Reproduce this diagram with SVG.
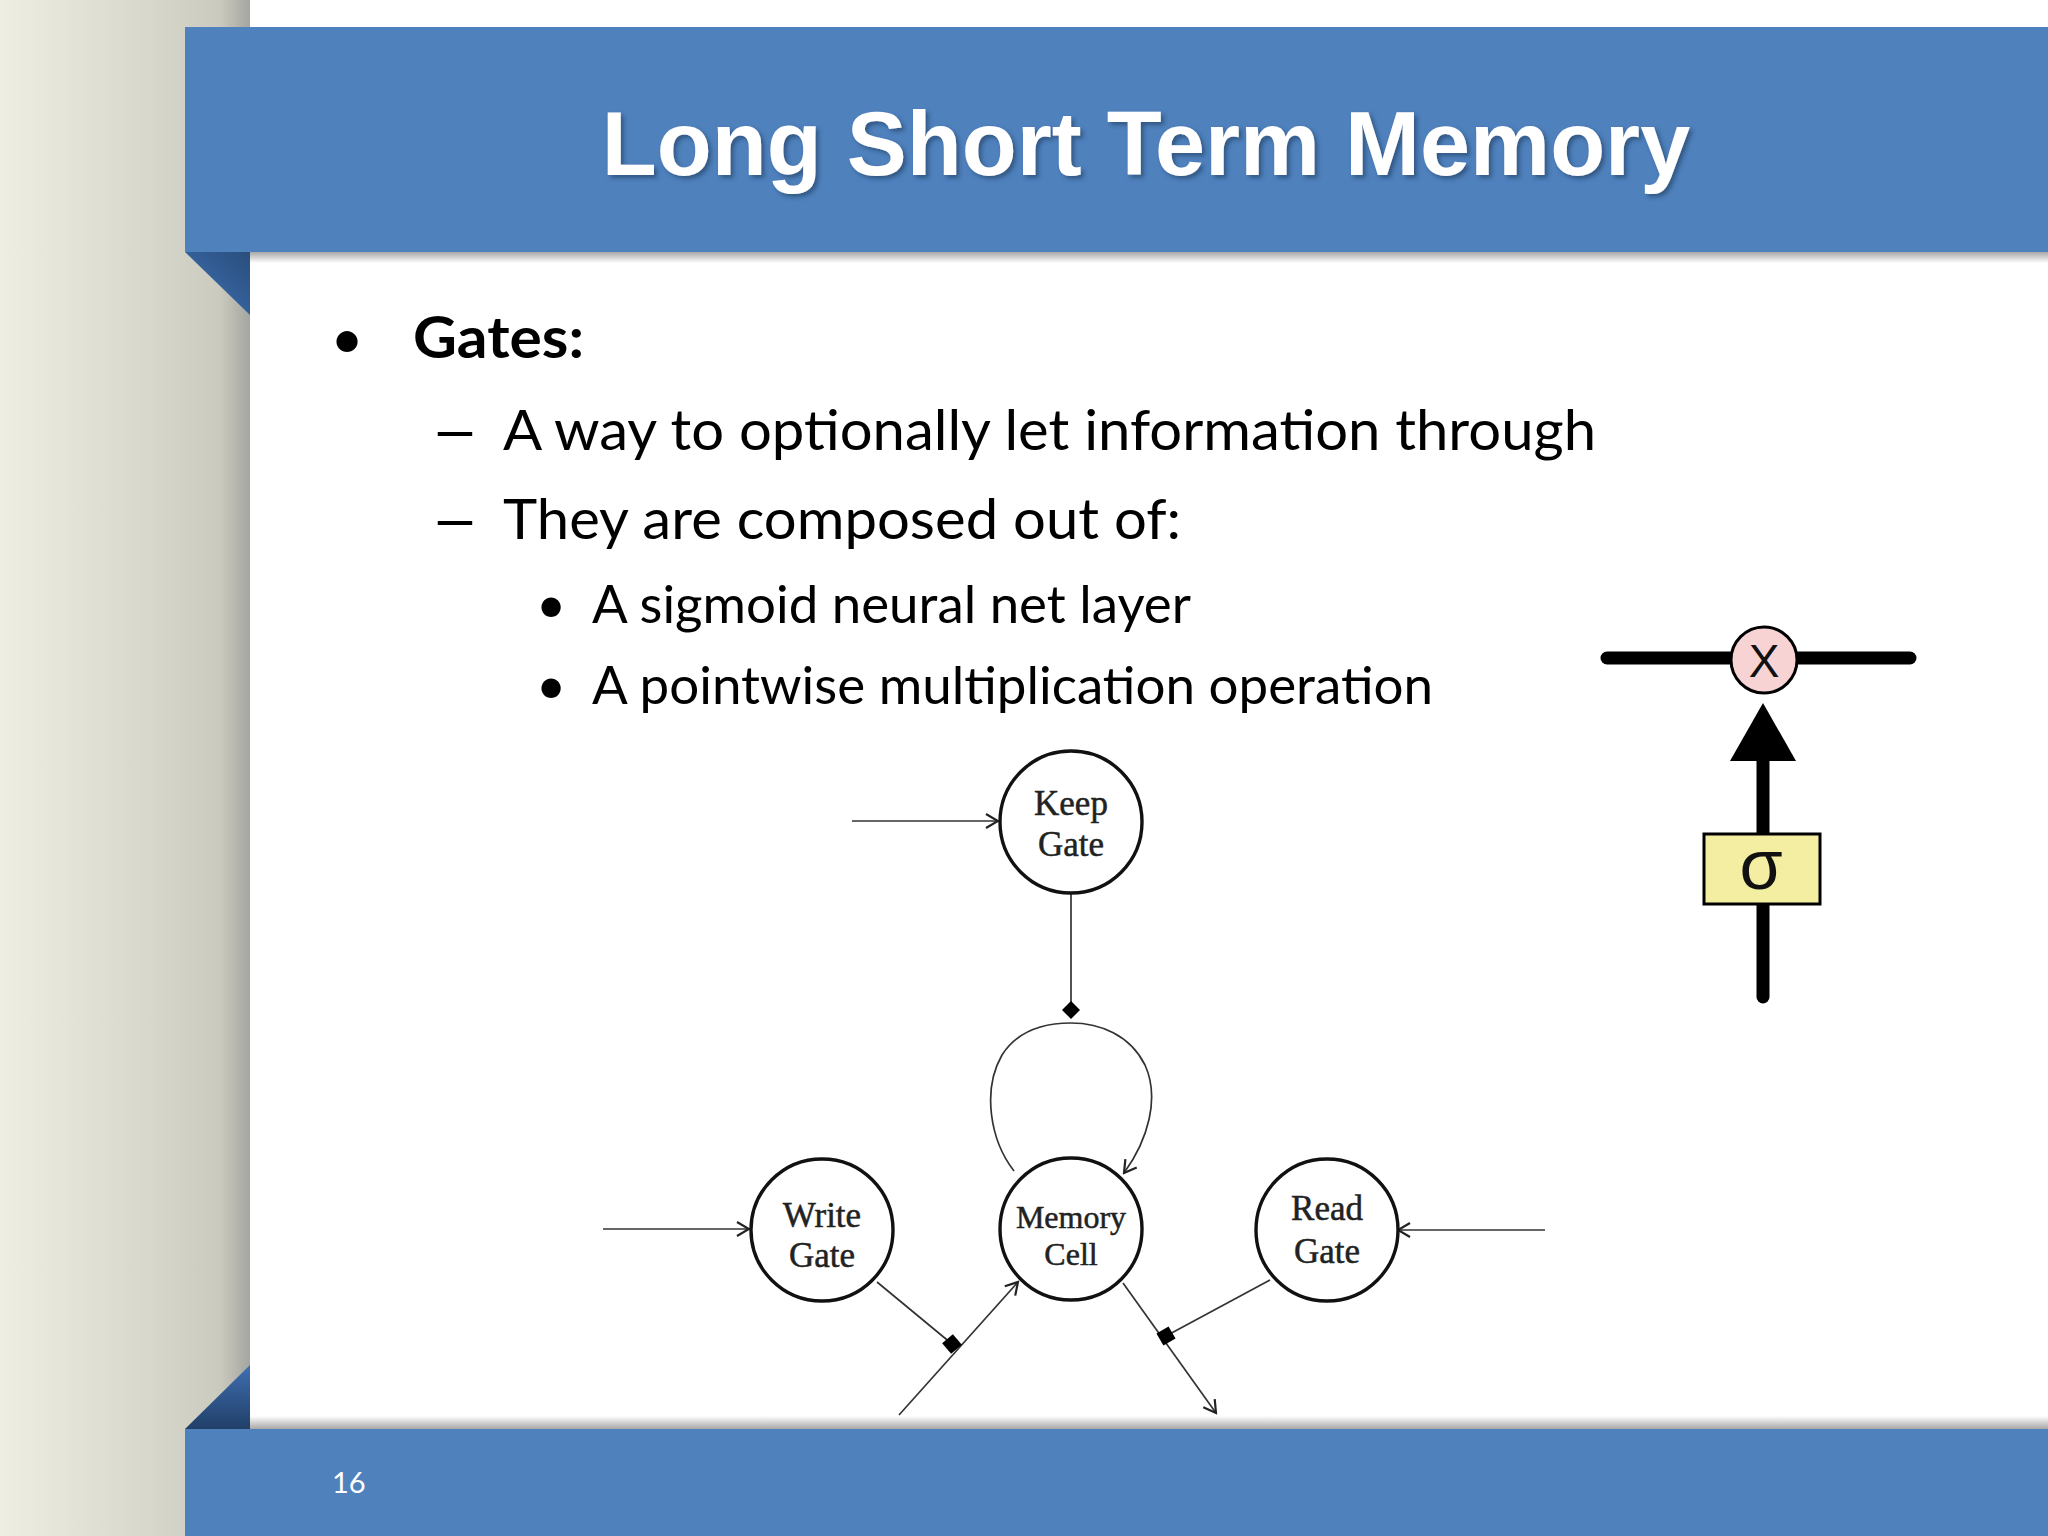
<svg xmlns="http://www.w3.org/2000/svg" width="2048" height="1536" viewBox="0 0 2048 1536">
<defs>
<style>
.body{font-family:Lato,"Open Sans",sans-serif;fill:#000}
.dash{font-family:"Liberation Sans",Arial,sans-serif;fill:#000}
.node circle{fill:#fff;stroke:#111;stroke-width:3.4}
.node text{font-family:"Liberation Serif",serif;fill:#222;stroke:#222;stroke-width:0.5;text-anchor:middle}
.conn{fill:none;stroke:#333;stroke-width:1.7}
.dot{fill:#000}
</style>
<linearGradient id="band" x1="0" y1="0" x2="250" y2="0" gradientUnits="userSpaceOnUse">
<stop offset="0" stop-color="#EEEEE3"/>
<stop offset="0.6" stop-color="#D7D7CB"/>
<stop offset="0.88" stop-color="#CACABE"/>
<stop offset="1" stop-color="#A5A5A1"/>
</linearGradient>
<linearGradient id="hshadow" x1="0" y1="0" x2="0" y2="1">
<stop offset="0" stop-color="#A9A7A7"/>
<stop offset="1" stop-color="#FFFFFF"/>
</linearGradient>
<linearGradient id="fshadow" x1="0" y1="0" x2="0" y2="1">
<stop offset="0" stop-color="#FFFFFF"/>
<stop offset="1" stop-color="#A9A6A6"/>
</linearGradient>
<linearGradient id="fold1" x1="1" y1="0" x2="0" y2="1">
<stop offset="0" stop-color="#2A4E7D"/>
<stop offset="1" stop-color="#3E71B4"/>
</linearGradient>
<linearGradient id="fold2" x1="0" y1="0" x2="0" y2="1">
<stop offset="0" stop-color="#3F6FB1"/>
<stop offset="1" stop-color="#203F68"/>
</linearGradient>
<filter id="tshadow" x="-5%" y="-20%" width="110%" height="140%">
<feDropShadow dx="3" dy="3" stdDeviation="2" flood-color="#1E3A5F" flood-opacity="0.6"/>
</filter>
<marker id="open" viewBox="0 0 16 16" refX="14" refY="8" markerWidth="16" markerHeight="16" markerUnits="userSpaceOnUse" orient="auto">
<path d="M2,1 L14,8 L2,15" fill="none" stroke="#222" stroke-width="2.2"/>
</marker>
</defs>

<!-- background -->
<rect x="0" y="0" width="2048" height="1536" fill="#FFFFFF"/>
<rect x="0" y="0" width="250" height="1536" fill="url(#band)"/>

<!-- header -->
<g id="header">
<rect x="250" y="252" width="1798" height="11" fill="url(#hshadow)"/>
<rect x="185" y="27" width="1863" height="225" fill="#4F81BD"/>
<polygon points="185,252 250,252 250,315" fill="url(#fold1)"/>
<text x="1146" y="175" font-family="'Liberation Sans',Arial,sans-serif" font-weight="bold" font-size="90" fill="#FFFFFF" text-anchor="middle" filter="url(#tshadow)">Long Short Term Memory</text>
</g>

<!-- footer -->
<g id="footer">
<rect x="250" y="1416" width="1798" height="13" fill="url(#fshadow)"/>
<rect x="185" y="1429" width="1863" height="107" fill="#4F81BD"/>
<polygon points="185,1429 250,1429 250,1365" fill="url(#fold2)"/>
<text x="332" y="1493" font-family="Lato,'Open Sans',sans-serif" font-size="29" fill="#FFFFFF">16</text>
</g>

<!-- body text -->
<g id="bullets" class="body">
<text x="347" y="358" font-size="57" text-anchor="middle">•</text>
<text x="413" y="358" font-size="57" font-weight="bold" textLength="171" lengthAdjust="spacingAndGlyphs">Gates:</text>
<text class="dash" x="455" y="450" font-size="62" text-anchor="middle">–</text>
<text x="503" y="450" font-size="57" textLength="1093" lengthAdjust="spacingAndGlyphs">A way to optionally let information through</text>
<text class="dash" x="455" y="539" font-size="62" text-anchor="middle">–</text>
<text x="503" y="539" font-size="57" textLength="678" lengthAdjust="spacingAndGlyphs">They are composed out of:</text>
<text x="551" y="623" font-size="52" text-anchor="middle">•</text>
<text x="592" y="623" font-size="52" textLength="599" lengthAdjust="spacingAndGlyphs">A sigmoid neural net layer</text>
<text x="551" y="704" font-size="52" text-anchor="middle">•</text>
<text x="592" y="704" font-size="52" textLength="841" lengthAdjust="spacingAndGlyphs">A pointwise multiplication operation</text>
</g>

<!-- gate illustration (right) -->
<g id="gate-illustration">
<line x1="1607" y1="658" x2="1910" y2="658" stroke="#000" stroke-width="13" stroke-linecap="round"/>
<line x1="1763" y1="997" x2="1763" y2="755" stroke="#000" stroke-width="13" stroke-linecap="round"/>
<polygon points="1763,703 1796,761 1730,761" fill="#000"/>
<g id="pointwise-mult">
<circle cx="1764" cy="660" r="33" fill="#F8D3D3" stroke="#000" stroke-width="3"/>
<text x="1764" y="677" font-family="'Liberation Sans',Arial,sans-serif" font-size="46" text-anchor="middle" fill="#111">X</text>
</g>
<g id="sigmoid-layer">
<rect x="1704" y="834" width="116" height="70" fill="#F4EEA2" stroke="#000" stroke-width="3"/>
<text x="1761" y="889" font-family="'Liberation Sans',Arial,sans-serif" font-size="70" text-anchor="middle" fill="#111">σ</text>
</g>
</g>

<!-- LSTM diagram connectors -->
<g id="connectors">
<line class="conn" x1="852" y1="821" x2="998" y2="821" marker-end="url(#open)"/>
<line class="conn" x1="603" y1="1229" x2="749" y2="1229" marker-end="url(#open)"/>
<line class="conn" x1="1545" y1="1230" x2="1398" y2="1230" marker-end="url(#open)"/>
<line class="conn" x1="1071" y1="893" x2="1071" y2="1010"/>
<path class="conn" d="M1014,1171 C990,1140 982,1090 1002,1055 C1018,1030 1045,1023 1071,1023 C1100,1023 1130,1035 1145,1065 C1160,1098 1148,1140 1124,1173" marker-end="url(#open)"/>
<line class="conn" x1="877" y1="1282" x2="952" y2="1344"/>
<line class="conn" x1="899" y1="1415" x2="1018" y2="1282" marker-end="url(#open)"/>
<line class="conn" x1="1270" y1="1280" x2="1166" y2="1336"/>
<line class="conn" x1="1123" y1="1283" x2="1216" y2="1413" marker-end="url(#open)"/>
<polygon class="dot" points="1071,1001 1080,1010 1071,1019 1062,1010"/>
<rect class="dot" x="945" y="1337" width="14" height="14" transform="rotate(-40 952 1344)"/>
<rect class="dot" x="1159" y="1329" width="14" height="14" transform="rotate(-30 1166 1336)"/>
</g>

<!-- LSTM nodes -->
<g id="keep-gate" class="node">
<circle cx="1071" cy="822" r="71"/>
<text x="1071" y="815" font-size="35">Keep</text>
<text x="1071" y="856" font-size="35">Gate</text>
</g>
<g id="write-gate" class="node">
<circle cx="822" cy="1230" r="71"/>
<text x="822" y="1227" font-size="35">Write</text>
<text x="822" y="1267" font-size="35">Gate</text>
</g>
<g id="memory-cell" class="node">
<circle cx="1071" cy="1229" r="71"/>
<text x="1071" y="1228" font-size="32">Memory</text>
<text x="1071" y="1265" font-size="32">Cell</text>
</g>
<g id="read-gate" class="node">
<circle cx="1327" cy="1230" r="71"/>
<text x="1327" y="1220" font-size="35">Read</text>
<text x="1327" y="1263" font-size="35">Gate</text>
</g>
</svg>
